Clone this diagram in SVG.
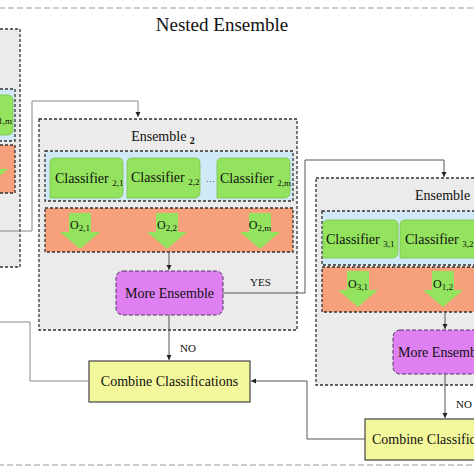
<svg xmlns="http://www.w3.org/2000/svg" width="474" height="474" viewBox="0 0 474 474">
<defs>
<style>
text{font-family:"Liberation Serif","Times New Roman",serif;fill:#111}
.ens{fill:#ebebeb;stroke:#333;stroke-width:1.3;stroke-dasharray:3 2}
.band{fill:#cfeaf6;stroke:#333;stroke-width:1.3;stroke-dasharray:3 2}
.orng{fill:#f6a17b;stroke:#333;stroke-width:1.3;stroke-dasharray:3 2}
.cls{fill:#93e35e;stroke:#7cc04c;stroke-width:0.8}
.arr{fill:#93e35e}
.more{fill:#de80f1;stroke:#553366;stroke-width:1;stroke-dasharray:4 2}
.comb{fill:#f4f89c;stroke:#444;stroke-width:1.2}
.ln{fill:none;stroke:#555;stroke-width:1}
.lg{fill:none;stroke:#888;stroke-width:1}
.frame{fill:none;stroke:#999;stroke-width:1.2;stroke-dasharray:6 3}
.t14{font-size:14px}
.sub{font-size:9px}
.ol{font-size:12px}
</style>
<marker id="ah" markerWidth="6" markerHeight="6" refX="5" refY="3" orient="auto" markerUnits="userSpaceOnUse">
<path d="M0,0.5 L5,3 L0,5.5 z" fill="#222"/>
</marker>
</defs>
<rect width="474" height="474" fill="#ffffff"/>
<rect class="frame" x="-10" y="8" width="494" height="457"/>
<text x="222" y="31" font-size="19" text-anchor="middle">Nested Ensemble</text>

<g id="ensemble1">
<rect class="ens" x="-60" y="29" width="80" height="238"/>
<rect class="band" x="-60" y="89" width="75" height="52"/>
<rect class="cls" x="-60" y="95" width="73" height="40" rx="5"/>
<text x="12" y="121" class="t14" text-anchor="end">Classifier <tspan class="sub" dy="3">1,m</tspan></text>
<rect class="orng" x="-60" y="145" width="75" height="48"/>
<path class="arr" d="M-23,150 H-1 V169 H8 L-12,186 L-32,169 H-23 Z"/>
</g>

<g id="ensemble2">
<rect class="ens" x="39" y="119" width="258" height="211"/>
<text x="163" y="141" class="t14" text-anchor="middle">Ensemble <tspan font-size="10" font-weight="bold" dy="3">2</tspan></text>
<rect class="band" x="45" y="151" width="248" height="50"/>
<path class="cls" d="M55,158 H118 Q123,158 123,163 V192 Q123,198 117,198 H50 V163 Q50,158 55,158 Z"/>
<text x="55" y="183" class="t14">Classifier <tspan class="sub" dy="3">2,1</tspan></text>
<path class="cls" d="M132,158 H195 Q200,158 200,163 V192 Q200,198 194,198 H127 V163 Q127,158 132,158 Z"/>
<text x="131" y="182" class="t14">Classifier <tspan class="sub" dy="3">2,2</tspan></text>
<text x="206" y="184" font-size="9">···</text>
<path class="cls" d="M222,158 H285 Q290,158 290,163 V192 Q290,198 284,198 H217 V163 Q217,158 222,158 Z"/>
<text x="220" y="183" class="t14">Classifier <tspan class="sub" dy="3">2,m</tspan></text>
<rect class="orng" x="45" y="208" width="248" height="44"/>
<path class="arr" d="M69,213 H91 V232 H100 L80,249 L60,232 H69 Z"/>
<text x="80" y="229" class="ol" text-anchor="middle">O<tspan class="sub" dy="2">2,1</tspan></text>
<path class="arr" d="M156,213 H178 V232 H187 L167,249 L147,232 H156 Z"/>
<text x="167" y="229" class="ol" text-anchor="middle">O<tspan class="sub" dy="2">2,2</tspan></text>
<path class="arr" d="M249,213 H271 V232 H280 L260,249 L240,232 H249 Z"/>
<text x="260" y="229" class="ol" text-anchor="middle">O<tspan class="sub" dy="2">2,m</tspan></text>
</g>

<g id="more2">
<rect class="more" x="116" y="271" width="107" height="44" rx="7"/>
<text x="169.5" y="298" class="t14" text-anchor="middle">More Ensemble</text>
</g>

<g id="combine2">
<rect class="comb" x="89" y="361" width="161" height="41"/>
<text x="169.5" y="386" class="t14" text-anchor="middle">Combine Classifications</text>
</g>

<g id="ensemble3">
<rect class="ens" x="316" y="178" width="200" height="207"/>
<text x="415" y="200" class="t14">Ensemble <tspan font-size="10" font-weight="bold" dy="3">3</tspan></text>
<rect class="band" x="322" y="211" width="190" height="54"/>
<path class="cls" d="M328,220 H393 Q398,220 398,225 V252 Q398,258 392,258 H323 V225 Q323,220 328,220 Z"/>
<text x="326" y="244" class="t14">Classifier <tspan class="sub" dy="3">3,1</tspan></text>
<path class="cls" d="M405,220 H520 V258 H400 V225 Q400,220 405,220 Z"/>
<text x="405" y="244" class="t14">Classifier <tspan class="sub" dy="3">3,2</tspan></text>
<rect class="orng" x="322" y="267" width="190" height="45"/>
<path class="arr" d="M347,271 H369 V290 H378 L358,307 L338,290 H347 Z"/>
<text x="358" y="288" class="ol" text-anchor="middle">O<tspan class="sub" dy="2">3,1</tspan></text>
<path class="arr" d="M432,271 H454 V290 H463 L443,307 L423,290 H432 Z"/>
<text x="443" y="288" class="ol" text-anchor="middle">O<tspan class="sub" dy="2">1,2</tspan></text>
</g>

<g id="more3">
<rect class="more" x="393" y="330" width="120" height="44" rx="7"/>
<text x="398" y="357" class="t14">More Ensemble</text>
</g>

<g id="combine3">
<rect class="comb" x="365" y="419" width="160" height="41"/>
<text x="372" y="444" class="t14">Combine Classifications</text>
</g>

<g id="connectors">
<path class="lg" d="M0,231 H32 V101 H138 V117" marker-end="url(#ah)"/>
<path class="lg" d="M0,322 H30 V381 H89"/>
<path class="ln" d="M169,252 V270" marker-end="url(#ah)"/>
<path class="ln" d="M169,315 V360" marker-end="url(#ah)"/>
<text x="180" y="352" font-size="11">NO</text>
<text x="250" y="286" font-size="11">YES</text>
<path class="ln" d="M223,293 H305 V160 H444 V177" marker-end="url(#ah)"/>
<path class="ln" d="M445,312 V329" marker-end="url(#ah)"/>
<path class="ln" d="M445,374 V418" marker-end="url(#ah)"/>
<text x="456" y="408" font-size="11">NO</text>
<path class="ln" d="M365,439 H307 V381 H251" marker-end="url(#ah)"/>
</g>
</svg>
